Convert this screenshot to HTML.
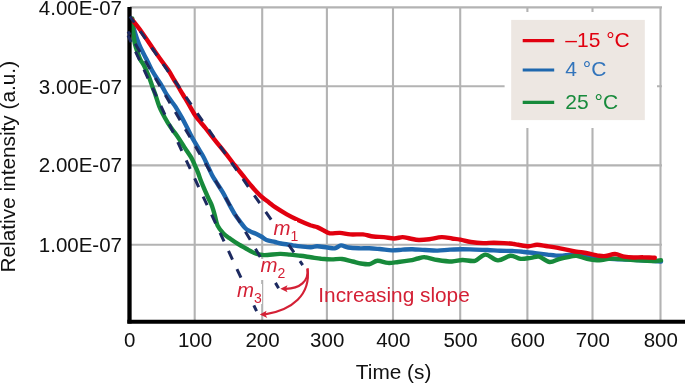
<!DOCTYPE html>
<html><head><meta charset="utf-8"><title>Relative intensity vs time</title>
<style>html,body{margin:0;padding:0;background:#fff;}svg{display:block;filter:blur(0.3px);}</style>
</head><body>
<svg width="685" height="384" viewBox="0 0 685 384">
<rect width="685" height="384" fill="#fff"/>
<line x1="194.7" y1="7.4" x2="194.7" y2="320" stroke="#b3b3b3" stroke-width="2.1"/>
<line x1="262.2" y1="7.4" x2="262.2" y2="320" stroke="#b3b3b3" stroke-width="2.1"/>
<line x1="326.9" y1="7.4" x2="326.9" y2="320" stroke="#b3b3b3" stroke-width="2.1"/>
<line x1="393.0" y1="7.4" x2="393.0" y2="320" stroke="#b3b3b3" stroke-width="2.1"/>
<line x1="460.2" y1="7.4" x2="460.2" y2="320" stroke="#b3b3b3" stroke-width="2.1"/>
<line x1="527.4" y1="7.4" x2="527.4" y2="320" stroke="#b3b3b3" stroke-width="2.1"/>
<line x1="592.5" y1="7.4" x2="592.5" y2="320" stroke="#b3b3b3" stroke-width="2.1"/>
<line x1="660.5" y1="7.4" x2="660.5" y2="320" stroke="#b3b3b3" stroke-width="2.1"/>
<line x1="130" y1="7.4" x2="662" y2="7.4" stroke="#b3b3b3" stroke-width="2.1"/>
<line x1="130" y1="86.3" x2="662" y2="86.3" stroke="#b3b3b3" stroke-width="2.1"/>
<line x1="130" y1="165.4" x2="662" y2="165.4" stroke="#b3b3b3" stroke-width="2.1"/>
<line x1="130" y1="244.8" x2="662" y2="244.8" stroke="#b3b3b3" stroke-width="2.1"/>
<rect x="504.6" y="12" width="152.4" height="116" fill="#fff"/>
<rect x="511.2" y="19.9" width="133.6" height="100.2" fill="#ede7e2"/>
<line x1="522.7" y1="40.6" x2="554.2" y2="40.6" stroke="#e1000f" stroke-width="3.2"/>
<line x1="522.7" y1="70" x2="554.2" y2="70" stroke="#1f68ae" stroke-width="3.2"/>
<line x1="522.7" y1="102.3" x2="554.2" y2="102.3" stroke="#178a3b" stroke-width="3.2"/>
<g font-family='"Liberation Sans", Arial, Helvetica, sans-serif' font-size="21">
<text x="565.3" y="46.5" fill="#e1000f">–15 °C</text>
<text x="565.3" y="76.3" fill="#3274bb">4 °C</text>
<text x="565.3" y="109.3" fill="#178a3b">25 °C</text>
</g>
<path d="M131.6,21.0 C132.2,22.9 133.8,28.7 135.0,32.6 C136.2,36.5 137.7,40.8 139.1,44.3 C140.5,47.8 142.1,50.8 143.5,53.6 C144.9,56.4 146.1,58.5 147.5,61.2 C148.9,63.9 150.2,67.1 151.8,70.0 C153.4,72.9 155.3,75.9 157.0,78.5 C158.7,81.1 160.3,83.4 161.8,85.8 C163.3,88.2 164.4,90.6 165.8,93.0 C167.2,95.4 168.9,97.7 170.5,100.0 C172.1,102.3 173.6,103.8 175.4,106.7 C177.2,109.6 179.6,113.7 181.6,117.2 C183.6,120.7 185.5,124.6 187.2,127.8 C188.9,131.0 189.9,133.3 191.6,136.5 C193.3,139.7 195.5,143.4 197.4,146.7 C199.3,149.9 201.3,152.9 203.0,156.0 C204.7,159.1 206.0,162.2 207.5,165.4 C209.0,168.6 210.6,172.3 212.0,175.0 C213.4,177.7 214.2,178.8 216.0,181.7 C217.8,184.6 220.6,188.6 222.7,192.2 C224.8,195.8 226.4,199.2 228.5,203.0 C230.6,206.8 233.2,211.7 235.2,214.9 C237.2,218.1 238.7,219.7 240.4,222.0 C242.1,224.3 243.9,226.9 245.6,228.5 C247.3,230.1 249.1,230.7 250.8,231.6 C252.5,232.5 254.3,233.0 256.0,233.8 C257.7,234.6 259.4,235.5 261.2,236.5 C262.9,237.5 264.2,239.1 266.5,240.0 C268.8,240.9 272.6,241.4 275.0,242.0 C277.4,242.6 278.1,242.9 281.0,243.5 C283.9,244.1 289.5,244.8 292.7,245.3 C295.9,245.8 297.4,246.1 300.4,246.4 C303.4,246.7 308.0,247.3 310.8,247.3 C313.6,247.3 314.3,246.2 317.1,246.2 C319.9,246.2 324.6,247.2 327.5,247.5 C330.4,247.8 332.6,248.7 334.8,248.3 C337.1,248.0 338.8,245.5 341.0,245.4 C343.2,245.3 345.3,247.0 348.3,247.5 C351.3,248.0 355.3,248.2 358.8,248.3 C362.2,248.4 365.7,248.2 369.2,248.3 C372.7,248.4 375.8,248.7 379.6,249.0 C383.4,249.3 388.2,250.3 392.0,250.4 C395.8,250.5 399.1,249.8 402.5,249.6 C405.9,249.4 408.8,249.1 412.5,249.2 C416.2,249.3 420.8,249.8 425.0,250.0 C429.2,250.2 433.3,250.7 437.5,250.6 C441.7,250.5 445.8,249.8 450.0,249.6 C454.2,249.4 458.3,249.2 462.5,249.2 C466.7,249.2 470.8,249.5 475.0,249.6 C479.2,249.7 483.3,249.8 487.5,250.0 C491.7,250.2 495.8,250.6 500.0,250.8 C504.2,251.0 508.8,250.8 512.5,251.0 C516.2,251.2 518.8,251.3 522.5,251.7 C526.2,252.0 530.8,252.6 535.0,253.1 C539.2,253.6 543.3,254.1 547.5,254.6 C551.7,255.1 556.2,255.8 560.0,255.8 C563.8,255.8 567.3,254.7 570.4,254.6 C573.5,254.5 576.0,254.8 578.8,255.2 C581.5,255.5 583.9,256.2 587.0,256.7 C590.1,257.1 593.7,257.6 597.5,257.9 C601.3,258.2 605.8,258.5 610.0,258.8 C614.2,259.0 619.2,259.3 622.5,259.4 C625.8,259.5 626.2,259.4 630.0,259.6 C633.8,259.8 639.8,260.2 645.0,260.5 C650.2,260.8 658.3,261.3 661.0,261.5" fill="none" stroke="#1f68ae" stroke-width="4.4" stroke-linejoin="round" stroke-linecap="round"/>
<path d="M132.3,18.5 C132.5,20.9 132.9,28.3 133.3,32.6 C133.8,36.9 134.2,40.8 135.0,44.3 C135.8,47.8 137.1,51.1 138.0,53.6 C138.9,56.1 139.2,57.3 140.3,59.5 C141.4,61.7 143.2,63.9 144.6,66.7 C146.0,69.5 147.4,72.9 148.7,76.1 C150.0,79.3 151.1,82.8 152.2,86.0 C153.3,89.2 154.3,91.5 155.5,95.0 C156.7,98.5 157.9,103.0 159.4,106.7 C160.9,110.4 162.7,113.7 164.6,117.2 C166.5,120.7 168.9,124.6 171.1,127.8 C173.2,131.0 175.3,133.3 177.5,136.5 C179.7,139.7 181.8,143.2 184.0,146.7 C186.2,150.1 189.2,154.1 191.0,157.2 C192.8,160.3 193.7,162.8 194.9,165.4 C196.1,168.0 197.0,169.9 198.0,172.5 C199.0,175.1 199.7,177.7 201.0,181.0 C202.3,184.3 204.4,189.1 205.7,192.2 C207.0,195.3 207.9,197.2 209.0,199.5 C210.1,201.8 211.0,203.2 212.0,206.0 C213.0,208.8 214.1,212.7 215.0,216.0 C215.9,219.3 216.2,222.7 217.6,225.6 C219.0,228.5 221.4,231.3 223.4,233.4 C225.4,235.5 227.0,236.4 229.3,238.1 C231.7,239.8 234.6,241.9 237.5,243.7 C240.4,245.5 243.7,247.3 246.8,249.0 C249.9,250.7 253.3,252.7 256.2,253.7 C259.1,254.7 260.4,255.1 264.4,255.1 C268.4,255.1 275.7,254.0 280.0,253.9 C284.3,253.8 286.6,254.3 290.0,254.6 C293.4,254.9 296.9,255.4 300.4,255.8 C303.9,256.2 307.3,256.8 310.8,257.3 C314.3,257.8 317.8,258.4 321.2,258.8 C324.7,259.1 328.2,259.4 331.7,259.4 C335.2,259.4 338.5,258.6 342.0,259.0 C345.5,259.4 349.4,260.8 352.5,261.5 C355.6,262.2 358.0,263.1 360.8,263.5 C363.6,263.9 366.4,264.6 369.2,264.2 C372.0,263.8 374.4,261.0 377.5,260.8 C380.6,260.6 384.5,262.7 388.0,262.9 C391.5,263.1 394.6,262.4 398.3,262.0 C402.0,261.6 406.7,261.0 410.0,260.4 C413.3,259.8 415.5,259.0 418.0,258.5 C420.5,258.0 421.8,256.9 425.0,257.2 C428.2,257.4 433.0,259.3 437.5,260.0 C442.0,260.7 447.8,261.5 452.0,261.5 C456.2,261.5 458.7,260.1 462.5,260.0 C466.3,259.9 471.2,261.7 475.0,260.8 C478.8,259.9 481.6,254.7 485.4,254.6 C489.2,254.5 493.7,260.2 497.9,260.4 C502.1,260.6 506.6,256.1 510.4,255.8 C514.1,255.5 517.0,258.4 520.4,258.8 C523.8,259.1 527.7,258.2 530.8,257.9 C533.9,257.6 536.1,256.0 539.2,256.7 C542.3,257.4 546.1,261.7 549.6,262.0 C553.1,262.3 556.5,259.6 560.0,258.8 C563.5,257.9 567.6,257.2 570.4,256.7 C573.2,256.2 573.9,255.5 576.7,255.8 C579.5,256.1 583.2,258.0 587.0,258.8 C590.8,259.5 595.8,260.3 599.4,260.3 C603.0,260.3 605.1,259.0 608.8,258.8 C612.4,258.5 616.3,258.7 621.0,259.0 C625.7,259.3 631.8,260.0 637.0,260.3 C642.2,260.6 648.5,261.0 652.5,261.0 C656.5,261.0 659.6,260.4 661.0,260.3" fill="none" stroke="#178a3b" stroke-width="4.4" stroke-linejoin="round" stroke-linecap="round"/>
<path d="M131.6,19.0 C133.2,21.1 137.6,26.3 141.3,31.5 C145.0,36.7 150.7,45.2 154.0,50.0 C157.3,54.8 158.6,56.7 161.0,60.0 C163.4,63.3 166.1,66.7 168.3,70.0 C170.5,73.3 172.4,77.0 174.2,80.0 C176.0,83.0 177.6,85.6 179.0,88.0 C180.4,90.4 181.1,91.5 182.9,94.5 C184.7,97.5 187.4,102.2 189.6,105.8 C191.8,109.4 193.2,112.6 195.8,116.3 C198.4,120.0 202.5,124.3 205.4,128.0 C208.3,131.7 211.0,135.1 213.5,138.3 C216.0,141.5 218.0,144.0 220.6,147.2 C223.2,150.4 226.5,154.5 228.8,157.5 C231.2,160.5 232.8,162.8 234.7,165.2 C236.6,167.6 238.2,169.8 240.0,172.0 C241.8,174.2 243.5,176.2 245.3,178.5 C247.1,180.8 249.1,183.2 251.0,185.5 C252.9,187.8 255.1,190.2 257.0,192.2 C258.9,194.2 260.5,195.8 262.5,197.5 C264.5,199.2 266.9,200.9 269.0,202.5 C271.1,204.1 272.1,205.2 275.1,207.2 C278.1,209.2 282.9,212.1 286.8,214.3 C290.7,216.5 294.6,218.4 298.5,220.2 C302.4,222.0 307.2,224.0 310.3,225.2 C313.4,226.3 314.9,226.3 317.1,227.1 C319.3,227.9 321.2,229.2 323.3,230.2 C325.4,231.2 326.8,232.9 329.6,233.3 C332.4,233.8 336.5,232.7 340.0,232.9 C343.5,233.1 346.6,234.2 350.4,234.4 C354.2,234.7 359.1,234.1 362.9,234.4 C366.7,234.8 369.8,236.1 373.3,236.5 C376.8,236.9 380.3,236.8 383.8,237.1 C387.2,237.4 391.1,238.5 394.2,238.5 C397.3,238.5 399.9,237.1 402.5,237.1 C405.1,237.1 407.3,238.0 410.0,238.5 C412.7,239.0 415.6,239.9 418.8,240.0 C421.9,240.1 425.4,239.7 429.2,239.2 C433.0,238.7 437.9,237.2 441.7,237.1 C445.5,237.0 448.9,238.1 452.0,238.5 C455.1,238.9 457.3,239.0 460.4,239.6 C463.5,240.2 467.0,241.4 470.8,242.0 C474.6,242.6 479.5,243.0 483.3,243.1 C487.1,243.2 490.3,242.7 493.8,242.7 C497.2,242.7 501.1,242.9 504.2,243.1 C507.3,243.3 510.1,243.5 512.5,243.8 C514.9,244.0 515.6,244.4 518.3,244.8 C521.0,245.2 525.6,246.2 528.8,246.2 C531.9,246.2 533.9,244.8 537.0,244.8 C540.1,244.8 543.7,245.7 547.5,246.2 C551.3,246.8 555.8,247.5 560.0,248.3 C564.2,249.1 568.7,250.3 572.5,251.0 C576.3,251.7 579.5,251.9 583.0,252.5 C586.5,253.1 590.8,254.1 593.3,254.6 C595.8,255.1 595.8,255.4 597.8,255.6 C599.8,255.8 602.7,256.3 605.6,256.0 C608.5,255.7 611.9,253.9 615.0,254.0 C618.1,254.1 621.3,256.1 624.4,256.7 C627.5,257.3 630.6,257.4 633.8,257.5 C636.9,257.6 639.5,257.1 643.0,257.2 C646.5,257.2 652.8,257.7 654.8,257.8" fill="none" stroke="#e1000f" stroke-width="4.4" stroke-linejoin="round" stroke-linecap="round"/>
<line x1="129.5" y1="6.9" x2="129.5" y2="323.6" stroke="#000" stroke-width="4.3"/>
<line x1="127.4" y1="321.7" x2="685" y2="321.7" stroke="#000" stroke-width="4"/>
<line x1="130.0" y1="16.44" x2="302.7" y2="265.04" stroke="#1d2a60" stroke-width="3" stroke-dasharray="9.5 10.5" stroke-dashoffset="-17.90"/>
<line x1="128.0" y1="31.43" x2="278.6" y2="288.21" stroke="#1d2a60" stroke-width="3" stroke-dasharray="9.5 10.3" stroke-dashoffset="-14.30"/>
<line x1="128.0" y1="35.41" x2="256.6" y2="311.23" stroke="#1d2a60" stroke-width="3" stroke-dasharray="9.5 10.5" stroke-dashoffset="-17.80"/>
<rect x="271" y="221" width="26" height="18" fill="#fff"/>
<rect x="259" y="259" width="28" height="21" fill="#fff"/>
<rect x="236" y="284" width="26" height="20" fill="#fff"/>
<g font-family='"Liberation Sans", Arial, Helvetica, sans-serif' fill="#d42035">
<text x="273.4" y="234.8" font-size="20.4" font-style="italic">m<tspan font-size="14" font-style="normal" dy="6">1</tspan></text>
<text x="260.5" y="271.8" font-size="20.4" font-style="italic">m<tspan font-size="14" font-style="normal" dy="6">2</tspan></text>
<text x="237" y="296.6" font-size="20.4" font-style="italic">m<tspan font-size="14" font-style="normal" dy="6">3</tspan></text>
<text x="318.3" y="301.8" font-size="20.8">Increasing slope</text>
</g>
<path d="M307.5,268.5 C309,281 300,289 285,288.8" fill="none" stroke="#d42035" stroke-width="2.2"/>
<path d="M280.3,288.8 L287.5,285.3 L286,288.8 L287.5,292.3 Z" fill="#d42035"/>
<path d="M307.5,268.5 C311,295 292,310 265,314.4" fill="none" stroke="#d42035" stroke-width="2.2"/>
<path d="M259.8,314.6 L266.5,310.8 L265.3,314.5 L267.3,318 Z" fill="#d42035"/>
<g font-family='"Liberation Sans", Arial, Helvetica, sans-serif' font-size="20.5" fill="#111">
<text x="122" y="14.6" text-anchor="end">4.00E-07</text>
<text x="122" y="93.5" text-anchor="end">3.00E-07</text>
<text x="122" y="172.4" text-anchor="end">2.00E-07</text>
<text x="122" y="251.9" text-anchor="end">1.00E-07</text>
<text x="129.7" y="347.2" text-anchor="middle">0</text>
<text x="195.0" y="347.2" text-anchor="middle">100</text>
<text x="262.5" y="347.2" text-anchor="middle">200</text>
<text x="327.2" y="347.2" text-anchor="middle">300</text>
<text x="393.3" y="347.2" text-anchor="middle">400</text>
<text x="460.5" y="347.2" text-anchor="middle">500</text>
<text x="527.7" y="347.2" text-anchor="middle">600</text>
<text x="592.8" y="347.2" text-anchor="middle">700</text>
<text x="660.8" y="347.2" text-anchor="middle">800</text>
<text x="393.6" y="379.2" text-anchor="middle" font-size="20.8">Time (s)</text>
<text transform="translate(15.2,166.7) rotate(-90)" text-anchor="middle" font-size="20.8">Relative intensity (a.u.)</text>
</g>
</svg>
</body></html>
